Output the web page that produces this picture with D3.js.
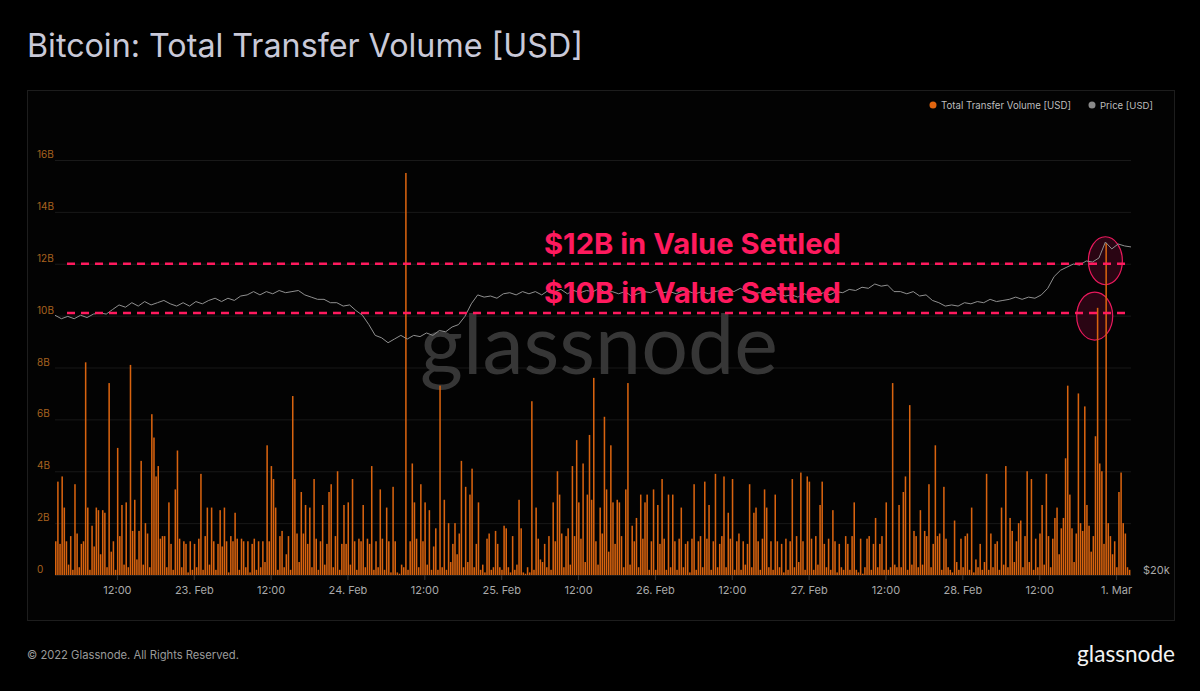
<!DOCTYPE html>
<html><head><meta charset="utf-8">
<script src="https://cdn.jsdelivr.net/npm/d3@7"></script>
<style>
html,body{margin:0;padding:0;background:#000;}
svg{display:block;font-family:Inter,"Noto Sans",sans-serif;}
</style></head><body>
<svg id="c" width="1200" height="691"></svg>
<script>
// ---------- DATA ----------
const startTime = "2022-02-22T02:20:00Z";
const endTime   = "2022-03-01T02:20:00Z";
const volumeStepMinutes = 20;
const priceStepMinutes = 60;
// Total transfer volume per 20-min slot, billions USD
const volumeB = [
 1.3,3.6,1.2,3.8,2.6,1.3,0.4,1.5,0.2,3.5,1.6,0.3,1.2,1.3,8.2,2.6,0.2,1.9,1.1,2.6,2.5,0.8,2.5,2.4,
 0.3,7.4,0.9,1.3,0.2,4.9,1.5,2.7,0.4,2.8,0.3,8.1,1.7,2.9,0.6,1.7,4.4,0.4,2.0,1.6,0.3,6.2,5.3,3.8,
 4.2,1.4,1.5,1.5,0.3,2.8,1.2,0.2,3.3,4.8,1.4,0.3,1.3,1.2,0.1,1.3,0.2,1.2,0.3,1.4,3.9,0.2,1.5,2.6,
 0.4,2.6,1.3,0.2,1.2,2.5,1.1,2.6,1.3,0.1,1.5,1.3,2.4,1.4,0.2,1.4,1.3,0.3,1.3,0.1,1.2,1.4,0.2,1.3,
 0.3,1.3,0.5,5.0,1.3,4.2,3.7,2.6,0.2,1.5,1.7,0.3,0.8,1.5,0.2,6.9,3.7,1.6,0.5,3.2,1.6,2.7,1.2,2.6,
 0.3,3.7,1.4,0.2,1.3,2.7,0.4,1.2,3.2,3.5,0.3,1.5,4.0,0.2,1.2,2.7,1.2,2.8,0.4,3.7,1.3,0.2,1.4,1.3,
 2.7,0.3,1.4,1.2,4.2,0.2,1.3,0.3,3.3,1.4,0.2,2.6,1.3,0.1,3.4,1.3,0.1,0.05,0.4,0.3,15.5,0.2,1.3,4.3,
 2.8,1.4,0.3,3.5,1.3,2.8,0.4,2.5,0.2,1.1,1.8,0.2,7.3,0.3,2.9,0.2,2.0,0.5,1.2,2.0,0.8,1.6,4.4,0.3,
 3.4,0.5,3.1,4.1,0.3,1.2,2.8,0.2,0.4,0.1,1.4,1.6,0.2,0.3,1.7,1.2,0.3,0.2,1.9,1.8,0.3,0.1,1.5,0.2,
 0.4,2.9,1.8,0.1,0.05,0.3,0.1,6.7,0.2,2.6,1.4,0.6,0.5,1.2,0.3,1.5,0.2,2.8,1.3,4.0,3.1,1.6,0.3,1.5,
 1.8,0.4,4.2,1.5,5.2,2.8,1.4,4.3,0.5,3.1,5.4,2.9,7.6,1.3,0.4,2.6,1.6,6.1,3.3,0.9,5.0,2.8,1.2,2.9,
 2.8,1.5,0.3,3.3,7.4,0.4,1.9,1.3,2.2,0.3,3.1,1.4,2.8,3.1,0.2,1.3,3.3,0.2,2.7,1.2,3.7,1.4,0.2,3.1,
 0.3,3.1,1.3,0.2,1.4,2.6,0.3,1.2,1.3,0.1,1.4,3.5,0.2,1.3,1.5,0.3,3.6,1.4,2.7,0.2,1.3,3.9,0.3,1.2,
 1.5,3.8,0.3,2.4,1.4,3.7,0.2,1.3,1.6,0.2,1.3,0.4,1.2,3.5,0.3,2.4,2.6,1.3,0.2,1.4,3.3,2.6,0.3,1.3,
 0.2,3.1,1.3,0.3,1.2,0.1,1.4,0.2,1.3,3.7,0.3,1.5,0.5,3.95,1.3,0.2,3.8,3.6,1.4,0.2,1.5,0.4,2.7,3.6,
 1.2,0.3,1.4,0.2,2.5,1.3,0.1,1.2,0.3,0.2,1.5,1.2,0.2,1.5,2.8,0.2,0.1,1.4,0.05,0.3,1.4,1.5,0.2,1.2,
 2.2,0.3,1.2,1.5,0.2,2.8,0.2,0.3,7.4,0.4,0.3,2.7,0.3,3.2,3.8,0.2,6.55,0.4,1.7,1.5,0.3,2.5,0.4,1.7,
 1.5,3.5,0.3,1.2,5.0,1.5,1.6,0.2,3.4,1.4,0.3,0.2,0.1,2.1,0.5,0.2,1.4,0.3,1.5,1.6,0.2,2.6,0.1,0.6,
 0.3,1.2,0.2,0.5,3.9,0.2,1.6,0.3,1.2,1.3,0.2,2.6,0.4,4.2,0.3,2.2,1.7,0.5,1.3,2.0,2.1,0.3,1.5,4.0,
 0.5,3.7,0.2,1.4,0.3,1.6,2.7,0.4,3.9,1.5,0.3,1.4,2.2,2.6,0.8,1.8,2.2,4.5,7.3,3.1,1.8,0.5,1.6,7.0,
 2.0,1.7,6.5,2.7,1.9,0.9,1.5,5.35,10.3,4.3,4.0,1.2,12.8,2.0,1.5,0.8,1.3,0.3,3.2,3.95,2.0,1.6,0.3,0.2
];
// BTC price, hourly, thousands USD
const priceK = [
 36.8,36.5,36.7,36.5,36.8,36.6,36.9,37.0,36.9,37.3,37.7,37.5,37.9,37.6,38.0,37.7,37.9,38.1,37.8,37.6,37.9,37.6,38.0,37.8,
 38.1,38.3,38.0,38.3,38.1,38.5,38.6,38.9,38.6,38.9,38.7,39.0,38.8,38.9,39.0,38.6,38.4,38.2,38.2,37.9,37.9,37.6,37.7,37.2,
 36.8,36.0,35.1,34.9,34.5,34.8,35.1,34.8,35.1,35.0,35.3,35.1,35.5,35.4,35.8,36.0,36.7,37.8,38.6,38.4,38.5,38.3,38.7,38.8,
 38.6,38.9,38.7,38.9,38.6,39.0,38.9,39.1,38.7,39.0,38.8,39.0,38.9,39.2,38.8,38.9,38.7,38.9,38.5,38.7,38.9,38.8,39.1,38.8,
 38.9,38.7,39.0,38.9,38.7,38.9,38.7,38.9,39.0,39.1,38.9,39.2,38.9,38.7,38.8,38.6,38.9,38.7,38.5,38.6,38.4,38.7,38.5,38.6,
 38.8,38.6,38.9,38.8,39.1,39.0,39.3,39.2,39.6,39.4,39.5,38.9,38.9,38.7,38.9,38.5,38.6,38.1,37.9,37.6,37.7,37.6,37.9,37.8,
 38.0,37.9,38.2,38.0,38.1,38.2,38.4,38.2,38.4,38.3,38.6,39.2,40.3,40.9,41.2,41.5,41.4,41.8,41.7,42.1,43.7,43.0,43.5,43.3,
 43.2
];
const yTicks = [0,2,4,6,8,10,12,14,16];
const yTickLabels = ["0","2B","4B","6B","8B","10B","12B","14B","16B"];
const priceTicks = [20];
const priceTickLabels = ["$20k"];
const levels = [12, 10.1];
const levelLabels = ["$12B in Value Settled", "$10B in Value Settled"];
const legendLabels = ["Total Transfer Volume [USD]", "Price [USD]"];
const legendColors = ["#e2650f", "#8a8a8a"];
const titleText = "Bitcoin: Total Transfer Volume [USD]";

// ---------- LAYOUT ----------
const svg = d3.select("#c");
const plot = {left:55, right:1131, top:160, bottom:575};
const parse = d3.utcParse("%Y-%m-%dT%H:%M:%SZ");
const t0 = parse(startTime), t1 = parse(endTime);
const x = d3.scaleUtc().domain([t0, t1]).range([plot.left, plot.right]);
const y = d3.scaleLinear().domain([0, 16]).range([plot.bottom, plot.top]);
const yP = d3.scaleLog().domain([20, 52.98]).range([plot.bottom, plot.top]);

function fit(sel, w){
  const cur = sel.node().getComputedTextLength();
  const fs = parseFloat(sel.attr("font-size"));
  sel.attr("font-size", (fs*w/cur).toFixed(2));
}

svg.append("rect").attr("width",1200).attr("height",691).attr("fill","#000");
svg.append("rect").attr("x",27.5).attr("y",90.5).attr("width",1147).attr("height",530)
  .attr("fill","#030303").attr("stroke","#1d1d1d");

// grid + y labels
const gy = svg.append("g").attr("transform",`translate(${plot.left},0)`)
  .call(d3.axisLeft(y).tickValues(yTicks).tickSize(-(plot.right-plot.left)).tickFormat((d,i)=>yTickLabels[i]));
gy.select(".domain").remove();
gy.selectAll("line").attr("stroke","#191919");
gy.selectAll("text").attr("x",-18).attr("dy","0").attr("y",-2.5).attr("text-anchor","start")
  .attr("fill","#a8621f").attr("font-size",10).attr("font-family","Inter,sans-serif");

// watermark
const wm = svg.append("text").attr("x",599).attr("y",374).attr("text-anchor","middle")
  .attr("font-family","Lato,'Open Sans',sans-serif").attr("font-size",74).attr("fill","#363636")
  .text("glassnode");
fit(wm, 358);

// ellipses (behind bars)
const ell = [
  {t: d3.utcMinute.offset(t0, 492*volumeStepMinutes), cy: y(levels[0]) - 3, rx:17, ry:24},
  {t: d3.utcMinute.offset(t0, 487*volumeStepMinutes), cy: y(levels[1]) + 3, rx:18, ry:24}
];
svg.append("g").selectAll("ellipse").data(ell).join("ellipse")
  .attr("cx", d=>x(d.t)).attr("cy", d=>d.cy).attr("rx", d=>d.rx).attr("ry", d=>d.ry)
  .attr("fill","#2a0513").attr("stroke","#e8195c").attr("stroke-width",1.2);

// bars
const vdata = volumeB.map((v,i)=>({t: d3.utcMinute.offset(t0, i*volumeStepMinutes), v}));
const slot = x(d3.utcMinute.offset(t0, volumeStepMinutes)) - x(t0);
svg.append("g").selectAll("rect").data(vdata).join("rect")
  .attr("x", d=>x(d.t)).attr("width", slot*0.72)
  .attr("y", d=>y(d.v)).attr("height", d=>y(0)-y(d.v))
  .attr("fill","#d8630f");

// price line
const pdata = priceK.map((p,i)=>({t: d3.utcMinute.offset(t0, i*priceStepMinutes), p}));
svg.append("path").datum(pdata)
  .attr("d", d3.line().x(d=>x(d.t)).y(d=>yP(d.p)))
  .attr("fill","none").attr("stroke","#909090").attr("stroke-width",1);

// dashed level lines
svg.append("g").selectAll("line").data(levels).join("line")
  .attr("x1", 67).attr("x2", 1128).attr("y1", d=>y(d)).attr("y2", d=>y(d))
  .attr("stroke","#ff1a5e").attr("stroke-width",2.4).attr("stroke-dasharray","8,6");

// annotation text
svg.append("g").selectAll("text").data(levels).join("text")
  .attr("x", 544).attr("y", d=>y(d)-10).attr("font-weight",700).attr("font-size",26)
  .attr("fill","#ff1a5e").text((d,i)=>levelLabels[i])
  .each(function(){ fit(d3.select(this), 297); });

// x axis
const gx = svg.append("g").attr("transform",`translate(0,${plot.bottom})`)
  .call(d3.axisBottom(x).ticks(d3.utcHour.every(12)).tickSize(5).tickPadding(6)
    .tickFormat(d => d.getUTCHours()===0 ? d3.utcFormat("%-d. %b")(d) : d3.utcFormat("%H:%M")(d)));
gx.select(".domain").remove();
gx.selectAll("line").attr("stroke","#333");
gx.selectAll("text").attr("fill","#a9a9a9").attr("font-size",11).attr("font-family","Inter,sans-serif");

// right price axis
const gp = svg.append("g").attr("transform",`translate(${plot.right},0)`)
  .call(d3.axisRight(yP).tickValues(priceTicks).tickSize(0).tickPadding(12).tickFormat((d,i)=>priceTickLabels[i]));
gp.select(".domain").remove();
gp.selectAll("text").attr("fill","#a9a9a9").attr("font-size",11).attr("dy","0").attr("y",-1.5)
  .attr("font-family","Inter,sans-serif");

// legend
const lg = svg.append("g");
const lx = [933, 1092];
lg.selectAll("circle").data(legendLabels).join("circle")
  .attr("cx",(d,i)=>lx[i]).attr("cy",105).attr("r",3.5).attr("fill",(d,i)=>legendColors[i]);
const lw = [130, 53];
lg.selectAll("text").data(legendLabels).join("text")
  .attr("x",(d,i)=>lx[i]+8).attr("y",108.5).attr("font-size",10).attr("fill","#bdbdbd").text(d=>d)
  .each(function(d,i){ fit(d3.select(this), lw[i]); });

// title
const tt = svg.append("text").attr("x",27).attr("y",57).attr("font-size",29)
  .attr("fill","#c9c9d8").text(titleText);
fit(tt, 556);

// footer
const ft = svg.append("text").attr("x",27).attr("y",659).attr("font-size",12)
  .attr("fill","#9a9a9a").text("© 2022 Glassnode. All Rights Reserved.");
fit(ft, 212);
const fl = svg.append("text").attr("x",1175).attr("y",662).attr("text-anchor","end")
  .attr("font-size",22).attr("font-weight",400).attr("font-family","Lato,'Open Sans',sans-serif")
  .attr("fill","#f2f2f2").text("glassnode");
fit(fl, 98);
</script>
</body></html>
